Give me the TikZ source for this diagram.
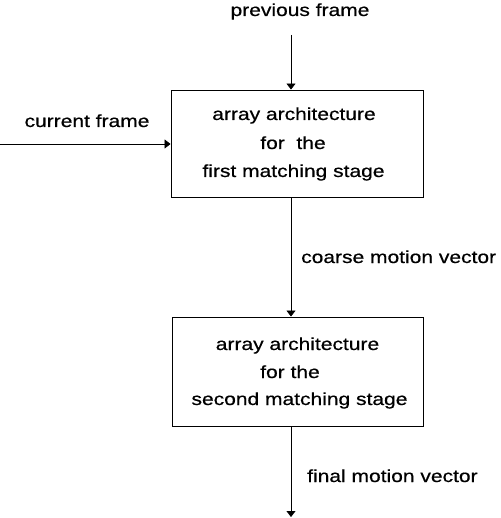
\documentclass[tikz,border=0pt]{standalone}
\usepackage{fontspec}
\setmainfont{Liberation Sans}[FakeStretch=1.2,FakeBold=0.6]
\usetikzlibrary{arrows.meta}
\begin{document}
\begin{tikzpicture}[x=1pt,y=-1pt,
  lbl/.style={anchor=base,inner sep=0pt,font=\fontsize{17.5}{20}\selectfont},
  stagebox/.style={draw,line width=0.9pt,inner sep=0pt},
  conn/.style={line width=0.8pt,-{Triangle[length=6pt,width=9pt]}}]
\useasboundingbox (0,0) rectangle (500,518);
% boxes
\node[stagebox,minimum width=252pt,minimum height=107pt] (b1) at (297,143.5) {};
\node[stagebox,minimum width=251pt,minimum height=109pt] (b2) at (297.5,371.5) {};
% texts
\node[lbl] (prev) at (300,16) {previous frame};
\node[lbl] (cur) at (87,127) {current frame};
\node[lbl] (t11) at (294,120) {array architecture};
\node[lbl] (t12) at (293,149) {for\ \ the};
\node[lbl] (t13) at (293.5,177) {first matching stage};
\node[lbl,anchor=base west] (coarse) at (301,263) {coarse motion vector};
\node[lbl] (t21) at (297.5,350) {array architecture};
\node[lbl] (t22) at (290,378) {for the};
\node[lbl] (t23) at (299.5,405) {second matching stage};
\node[lbl,anchor=base west] (final) at (307,482) {final motion vector};
% connectors
\coordinate (ptop) at (291,35);
\coordinate (cleft) at (0,144);
\coordinate (fend) at (291,517);
\draw[conn] (ptop) -- (ptop |- b1.north);
\draw[conn] (cleft) -- (cleft -| b1.west);
\draw[conn] (b1.south -| ptop) -- (b2.north -| ptop);
\draw[conn] (b2.south -| ptop) -- (fend);
\end{tikzpicture}
\end{document}
